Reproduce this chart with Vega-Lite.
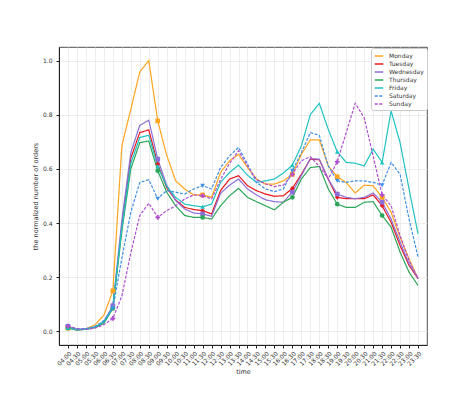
{
"$schema": "https://vega.github.io/schema/vega-lite/v6.json",
"autosize": {"type": "none"},
"padding": {"left": 59, "top": 47, "right": 47, "bottom": 50},
"width": 368,
"height": 298,
"background": "white",
"config": {
  "font": "DejaVu Sans",
  "view": {"stroke": "#222", "strokeWidth": 0.8},
  "axis": {"labelFontSize": 6, "titleFontSize": 6.5, "titleFontWeight": "normal", "labelColor": "#333", "titleColor": "#333", "domainColor": "#222", "tickColor": "#222", "tickSize": 3, "gridColor": "#e8e8e8", "gridWidth": 0.8},
  "legend": {"labelFontSize": 6, "labelColor": "#333"}
},
"data": {"values": [
{"day":"Monday","time":"04:00","value":0.012},{"day":"Monday","time":"04:30","value":0.006},{"day":"Monday","time":"05:00","value":0.01},{"day":"Monday","time":"05:30","value":0.024},{"day":"Monday","time":"06:00","value":0.06},{"day":"Monday","time":"06:30","value":0.15},{"day":"Monday","time":"07:00","value":0.685},{"day":"Monday","time":"07:30","value":0.82},{"day":"Monday","time":"08:00","value":0.958},{"day":"Monday","time":"08:30","value":1.0},{"day":"Monday","time":"09:00","value":0.777},{"day":"Monday","time":"09:30","value":0.65},{"day":"Monday","time":"10:00","value":0.556},{"day":"Monday","time":"10:30","value":0.526},{"day":"Monday","time":"11:00","value":0.504},{"day":"Monday","time":"11:30","value":0.504},{"day":"Monday","time":"12:00","value":0.495},{"day":"Monday","time":"12:30","value":0.587},{"day":"Monday","time":"13:00","value":0.63},{"day":"Monday","time":"13:30","value":0.654},{"day":"Monday","time":"14:00","value":0.605},{"day":"Monday","time":"14:30","value":0.563},{"day":"Monday","time":"15:00","value":0.544},{"day":"Monday","time":"15:30","value":0.544},{"day":"Monday","time":"16:00","value":0.556},{"day":"Monday","time":"16:30","value":0.58},{"day":"Monday","time":"17:00","value":0.654},{"day":"Monday","time":"17:30","value":0.707},{"day":"Monday","time":"18:00","value":0.707},{"day":"Monday","time":"18:30","value":0.611},{"day":"Monday","time":"19:00","value":0.571},{"day":"Monday","time":"19:30","value":0.55},{"day":"Monday","time":"20:00","value":0.511},{"day":"Monday","time":"20:30","value":0.54},{"day":"Monday","time":"21:00","value":0.538},{"day":"Monday","time":"21:30","value":0.495},{"day":"Monday","time":"22:00","value":0.44},{"day":"Monday","time":"22:30","value":0.348},{"day":"Monday","time":"23:00","value":0.268},{"day":"Monday","time":"23:30","value":0.195},
{"day":"Tuesday","time":"04:00","value":0.015},{"day":"Tuesday","time":"04:30","value":0.006},{"day":"Tuesday","time":"05:00","value":0.008},{"day":"Tuesday","time":"05:30","value":0.015},{"day":"Tuesday","time":"06:00","value":0.035},{"day":"Tuesday","time":"06:30","value":0.09},{"day":"Tuesday","time":"07:00","value":0.39},{"day":"Tuesday","time":"07:30","value":0.64},{"day":"Tuesday","time":"08:00","value":0.734},{"day":"Tuesday","time":"08:30","value":0.744},{"day":"Tuesday","time":"09:00","value":0.618},{"day":"Tuesday","time":"09:30","value":0.53},{"day":"Tuesday","time":"10:00","value":0.485},{"day":"Tuesday","time":"10:30","value":0.458},{"day":"Tuesday","time":"11:00","value":0.45},{"day":"Tuesday","time":"11:30","value":0.446},{"day":"Tuesday","time":"12:00","value":0.434},{"day":"Tuesday","time":"12:30","value":0.52},{"day":"Tuesday","time":"13:00","value":0.5625},{"day":"Tuesday","time":"13:30","value":0.575},{"day":"Tuesday","time":"14:00","value":0.538},{"day":"Tuesday","time":"14:30","value":0.52},{"day":"Tuesday","time":"15:00","value":0.507},{"day":"Tuesday","time":"15:30","value":0.499},{"day":"Tuesday","time":"16:00","value":0.501},{"day":"Tuesday","time":"16:30","value":0.528},{"day":"Tuesday","time":"17:00","value":0.58},{"day":"Tuesday","time":"17:30","value":0.636},{"day":"Tuesday","time":"18:00","value":0.634},{"day":"Tuesday","time":"18:30","value":0.5625},{"day":"Tuesday","time":"19:00","value":0.495},{"day":"Tuesday","time":"19:30","value":0.49},{"day":"Tuesday","time":"20:00","value":0.49},{"day":"Tuesday","time":"20:30","value":0.49},{"day":"Tuesday","time":"21:00","value":0.504},{"day":"Tuesday","time":"21:30","value":0.464},{"day":"Tuesday","time":"22:00","value":0.403},{"day":"Tuesday","time":"22:30","value":0.317},{"day":"Tuesday","time":"23:00","value":0.244},{"day":"Tuesday","time":"23:30","value":0.195},
{"day":"Wednesday","time":"04:00","value":0.018},{"day":"Wednesday","time":"04:30","value":0.008},{"day":"Wednesday","time":"05:00","value":0.01},{"day":"Wednesday","time":"05:30","value":0.016},{"day":"Wednesday","time":"06:00","value":0.036},{"day":"Wednesday","time":"06:30","value":0.095},{"day":"Wednesday","time":"07:00","value":0.41},{"day":"Wednesday","time":"07:30","value":0.66},{"day":"Wednesday","time":"08:00","value":0.761},{"day":"Wednesday","time":"08:30","value":0.78},{"day":"Wednesday","time":"09:00","value":0.636},{"day":"Wednesday","time":"09:30","value":0.54},{"day":"Wednesday","time":"10:00","value":0.483},{"day":"Wednesday","time":"10:30","value":0.452},{"day":"Wednesday","time":"11:00","value":0.4375},{"day":"Wednesday","time":"11:30","value":0.434},{"day":"Wednesday","time":"12:00","value":0.425},{"day":"Wednesday","time":"12:30","value":0.51},{"day":"Wednesday","time":"13:00","value":0.54},{"day":"Wednesday","time":"13:30","value":0.5625},{"day":"Wednesday","time":"14:00","value":0.526},{"day":"Wednesday","time":"14:30","value":0.504},{"day":"Wednesday","time":"15:00","value":0.486},{"day":"Wednesday","time":"15:30","value":0.479},{"day":"Wednesday","time":"16:00","value":0.477},{"day":"Wednesday","time":"16:30","value":0.514},{"day":"Wednesday","time":"17:00","value":0.575},{"day":"Wednesday","time":"17:30","value":0.638},{"day":"Wednesday","time":"18:00","value":0.636},{"day":"Wednesday","time":"18:30","value":0.5625},{"day":"Wednesday","time":"19:00","value":0.507},{"day":"Wednesday","time":"19:30","value":0.495},{"day":"Wednesday","time":"20:00","value":0.49},{"day":"Wednesday","time":"20:30","value":0.495},{"day":"Wednesday","time":"21:00","value":0.511},{"day":"Wednesday","time":"21:30","value":0.477},{"day":"Wednesday","time":"22:00","value":0.415},{"day":"Wednesday","time":"22:30","value":0.33},{"day":"Wednesday","time":"23:00","value":0.25},{"day":"Wednesday","time":"23:30","value":0.197},
{"day":"Thursday","time":"04:00","value":0.012},{"day":"Thursday","time":"04:30","value":0.005},{"day":"Thursday","time":"05:00","value":0.008},{"day":"Thursday","time":"05:30","value":0.014},{"day":"Thursday","time":"06:00","value":0.03},{"day":"Thursday","time":"06:30","value":0.085},{"day":"Thursday","time":"07:00","value":0.37},{"day":"Thursday","time":"07:30","value":0.6},{"day":"Thursday","time":"08:00","value":0.697},{"day":"Thursday","time":"08:30","value":0.703},{"day":"Thursday","time":"09:00","value":0.593},{"day":"Thursday","time":"09:30","value":0.514},{"day":"Thursday","time":"10:00","value":0.464},{"day":"Thursday","time":"10:30","value":0.428},{"day":"Thursday","time":"11:00","value":0.421},{"day":"Thursday","time":"11:30","value":0.421},{"day":"Thursday","time":"12:00","value":0.415},{"day":"Thursday","time":"12:30","value":0.464},{"day":"Thursday","time":"13:00","value":0.501},{"day":"Thursday","time":"13:30","value":0.528},{"day":"Thursday","time":"14:00","value":0.495},{"day":"Thursday","time":"14:30","value":0.479},{"day":"Thursday","time":"15:00","value":0.464},{"day":"Thursday","time":"15:30","value":0.449},{"day":"Thursday","time":"16:00","value":0.477},{"day":"Thursday","time":"16:30","value":0.495},{"day":"Thursday","time":"17:00","value":0.5625},{"day":"Thursday","time":"17:30","value":0.605},{"day":"Thursday","time":"18:00","value":0.609},{"day":"Thursday","time":"18:30","value":0.526},{"day":"Thursday","time":"19:00","value":0.47},{"day":"Thursday","time":"19:30","value":0.458},{"day":"Thursday","time":"20:00","value":0.458},{"day":"Thursday","time":"20:30","value":0.477},{"day":"Thursday","time":"21:00","value":0.479},{"day":"Thursday","time":"21:30","value":0.428},{"day":"Thursday","time":"22:00","value":0.385},{"day":"Thursday","time":"22:30","value":0.293},{"day":"Thursday","time":"23:00","value":0.219},{"day":"Thursday","time":"23:30","value":0.17},
{"day":"Friday","time":"04:00","value":0.014},{"day":"Friday","time":"04:30","value":0.006},{"day":"Friday","time":"05:00","value":0.009},{"day":"Friday","time":"05:30","value":0.016},{"day":"Friday","time":"06:00","value":0.035},{"day":"Friday","time":"06:30","value":0.09},{"day":"Friday","time":"07:00","value":0.38},{"day":"Friday","time":"07:30","value":0.62},{"day":"Friday","time":"08:00","value":0.716},{"day":"Friday","time":"08:30","value":0.724},{"day":"Friday","time":"09:00","value":0.61},{"day":"Friday","time":"09:30","value":0.535},{"day":"Friday","time":"10:00","value":0.495},{"day":"Friday","time":"10:30","value":0.47},{"day":"Friday","time":"11:00","value":0.464},{"day":"Friday","time":"11:30","value":0.46},{"day":"Friday","time":"12:00","value":0.47},{"day":"Friday","time":"12:30","value":0.55},{"day":"Friday","time":"13:00","value":0.587},{"day":"Friday","time":"13:30","value":0.614},{"day":"Friday","time":"14:00","value":0.577},{"day":"Friday","time":"14:30","value":0.55},{"day":"Friday","time":"15:00","value":0.556},{"day":"Friday","time":"15:30","value":0.5625},{"day":"Friday","time":"16:00","value":0.585},{"day":"Friday","time":"16:30","value":0.614},{"day":"Friday","time":"17:00","value":0.685},{"day":"Friday","time":"17:30","value":0.8},{"day":"Friday","time":"18:00","value":0.842},{"day":"Friday","time":"18:30","value":0.746},{"day":"Friday","time":"19:00","value":0.663},{"day":"Friday","time":"19:30","value":0.624},{"day":"Friday","time":"20:00","value":0.621},{"day":"Friday","time":"20:30","value":0.611},{"day":"Friday","time":"21:00","value":0.673},{"day":"Friday","time":"21:30","value":0.624},{"day":"Friday","time":"22:00","value":0.814},{"day":"Friday","time":"22:30","value":0.697},{"day":"Friday","time":"23:00","value":0.526},{"day":"Friday","time":"23:30","value":0.36},
{"day":"Saturday","time":"04:00","value":0.02},{"day":"Saturday","time":"04:30","value":0.01},{"day":"Saturday","time":"05:00","value":0.01},{"day":"Saturday","time":"05:30","value":0.018},{"day":"Saturday","time":"06:00","value":0.04},{"day":"Saturday","time":"06:30","value":0.085},{"day":"Saturday","time":"07:00","value":0.27},{"day":"Saturday","time":"07:30","value":0.44},{"day":"Saturday","time":"08:00","value":0.55},{"day":"Saturday","time":"08:30","value":0.56},{"day":"Saturday","time":"09:00","value":0.49},{"day":"Saturday","time":"09:30","value":0.52},{"day":"Saturday","time":"10:00","value":0.514},{"day":"Saturday","time":"10:30","value":0.507},{"day":"Saturday","time":"11:00","value":0.526},{"day":"Saturday","time":"11:30","value":0.538},{"day":"Saturday","time":"12:00","value":0.526},{"day":"Saturday","time":"12:30","value":0.605},{"day":"Saturday","time":"13:00","value":0.648},{"day":"Saturday","time":"13:30","value":0.679},{"day":"Saturday","time":"14:00","value":0.618},{"day":"Saturday","time":"14:30","value":0.55},{"day":"Saturday","time":"15:00","value":0.526},{"day":"Saturday","time":"15:30","value":0.516},{"day":"Saturday","time":"16:00","value":0.526},{"day":"Saturday","time":"16:30","value":0.593},{"day":"Saturday","time":"17:00","value":0.66},{"day":"Saturday","time":"17:30","value":0.734},{"day":"Saturday","time":"18:00","value":0.724},{"day":"Saturday","time":"18:30","value":0.611},{"day":"Saturday","time":"19:00","value":0.556},{"day":"Saturday","time":"19:30","value":0.55},{"day":"Saturday","time":"20:00","value":0.556},{"day":"Saturday","time":"20:30","value":0.556},{"day":"Saturday","time":"21:00","value":0.55},{"day":"Saturday","time":"21:30","value":0.54},{"day":"Saturday","time":"22:00","value":0.624},{"day":"Saturday","time":"22:30","value":0.58},{"day":"Saturday","time":"23:00","value":0.415},{"day":"Saturday","time":"23:30","value":0.275},
{"day":"Sunday","time":"04:00","value":0.02},{"day":"Sunday","time":"04:30","value":0.01},{"day":"Sunday","time":"05:00","value":0.008},{"day":"Sunday","time":"05:30","value":0.012},{"day":"Sunday","time":"06:00","value":0.025},{"day":"Sunday","time":"06:30","value":0.048},{"day":"Sunday","time":"07:00","value":0.13},{"day":"Sunday","time":"07:30","value":0.29},{"day":"Sunday","time":"08:00","value":0.428},{"day":"Sunday","time":"08:30","value":0.473},{"day":"Sunday","time":"09:00","value":0.421},{"day":"Sunday","time":"09:30","value":0.446},{"day":"Sunday","time":"10:00","value":0.464},{"day":"Sunday","time":"10:30","value":0.489},{"day":"Sunday","time":"11:00","value":0.504},{"day":"Sunday","time":"11:30","value":0.501},{"day":"Sunday","time":"12:00","value":0.489},{"day":"Sunday","time":"12:30","value":0.56},{"day":"Sunday","time":"13:00","value":0.62},{"day":"Sunday","time":"13:30","value":0.667},{"day":"Sunday","time":"14:00","value":0.611},{"day":"Sunday","time":"14:30","value":0.56},{"day":"Sunday","time":"15:00","value":0.545},{"day":"Sunday","time":"15:30","value":0.535},{"day":"Sunday","time":"16:00","value":0.54},{"day":"Sunday","time":"16:30","value":0.58},{"day":"Sunday","time":"17:00","value":0.63},{"day":"Sunday","time":"17:30","value":0.645},{"day":"Sunday","time":"18:00","value":0.61},{"day":"Sunday","time":"18:30","value":0.5625},{"day":"Sunday","time":"19:00","value":0.626},{"day":"Sunday","time":"19:30","value":0.734},{"day":"Sunday","time":"20:00","value":0.842},{"day":"Sunday","time":"20:30","value":0.789},{"day":"Sunday","time":"21:00","value":0.648},{"day":"Sunday","time":"21:30","value":0.504},{"day":"Sunday","time":"22:00","value":0.464},{"day":"Sunday","time":"22:30","value":0.354},{"day":"Sunday","time":"23:00","value":0.262},{"day":"Sunday","time":"23:30","value":0.195}
]},
"encoding": {
  "x": {"field": "time", "type": "ordinal", "sort": null, "scale": {"type": "point", "padding": 2.07},
        "axis": {"title": "time", "labelAngle": -45, "labelAlign": "right", "labelBaseline": "top", "labelPadding": 2, "titlePadding": 2, "grid": true}},
  "y": {"field": "value", "type": "quantitative", "scale": {"domain": [-0.05, 1.05], "nice": false, "zero": false},
        "axis": {"title": "the normalized  number of orders", "values": [0, 0.2, 0.4, 0.6, 0.8, 1.0], "format": ".1f", "labelPadding": 4, "titlePadding": 4, "grid": true}}
},
"resolve": {"scale": {"color": "independent", "shape": "independent", "strokeDash": "independent"}, "legend": {"color": "independent", "shape": "independent", "strokeDash": "independent"}},
"layer": [
  {"mark": {"type": "line", "strokeWidth": 1.2},
   "encoding": {
     "color": {"field": "day", "type": "nominal", "title": null,
               "scale": {"domain": ["Monday","Tuesday","Wednesday","Thursday","Friday","Saturday","Sunday"],
                         "range": ["#ffa51f","#e8161b","#8c6fd6","#2ea65a","#1fc2c2","#3f8fe6","#b04fd0"]},
               "legend": {"orient": "none", "legendX": 312, "legendY": 1, "symbolType": "stroke", "symbolSize": 72, "symbolStrokeWidth": 1.4, "rowPadding": 0, "labelOffset": 5, "padding": 3, "fillColor": "white", "strokeColor": "#cccccc", "cornerRadius": 2}},
     "strokeDash": {"field": "day", "type": "nominal", "title": null,
                    "scale": {"domain": ["Monday","Tuesday","Wednesday","Thursday","Friday","Saturday","Sunday"],
                              "range": [[1,0],[1,0],[1,0],[1,0],[1,0],[3,1.5],[3,1.5]]}}
   }},
  {"mark": {"type": "point", "filled": true, "size": 22, "opacity": 1},
   "transform": [{"filter": {"field": "time", "oneOf": ["04:00","06:30","09:00","11:30","16:30","19:00","21:30"]}}],
   "encoding": {
     "color": {"field": "day", "type": "nominal", "legend": null,
               "scale": {"domain": ["Monday","Tuesday","Wednesday","Thursday","Friday","Saturday","Sunday"],
                         "range": ["#ffa51f","#e8161b","#8c6fd6","#2ea65a","#1fc2c2","#3f8fe6","#b04fd0"]}},
     "shape": {"field": "day", "type": "nominal", "legend": null,
               "scale": {"domain": ["Monday","Tuesday","Wednesday","Thursday","Friday","Saturday","Sunday"],
                         "range": ["square","diamond","square","circle","triangle-up","triangle-down","cross"]}}
   }}
]
}
